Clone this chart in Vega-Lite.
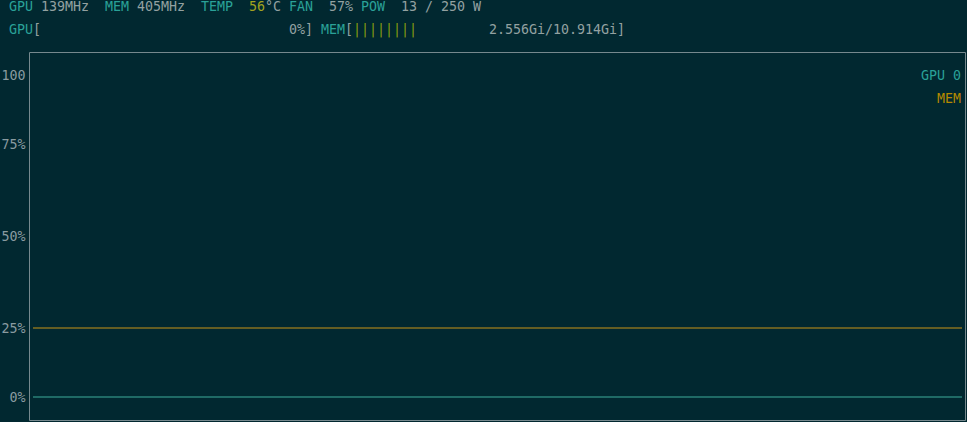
{
  "$schema": "https://vega.github.io/schema/vega-lite/v6.json",
  "width": 936,
  "height": 368,
  "autosize": {"type": "none"},
  "padding": {"left": 29, "top": 52, "right": 2, "bottom": 2},
  "background": "#012830",
  "config": {
    "view": {"stroke": "#76898e", "strokeWidth": 1},
    "font": "DejaVu Sans Mono"
  },
  "layer": [
    {
      "data": {
        "values": [
          {"series": "GPU", "t": 0, "pct": 0},
          {"series": "GPU", "t": 58, "pct": 0},
          {"series": "GPU", "t": 116, "pct": 0},
          {"series": "MEM", "t": 0, "pct": 25},
          {"series": "MEM", "t": 58, "pct": 25},
          {"series": "MEM", "t": 116, "pct": 25}
        ]
      },
      "mark": {"type": "line", "strokeWidth": 1.6},
      "encoding": {
        "x": {"field": "t", "type": "quantitative", "scale": {"domain": [0, 116], "range": [4, 933], "nice": false, "zero": false}, "axis": null},
        "y": {
          "field": "pct",
          "type": "quantitative",
          "scale": {"domain": [0, 25, 50, 75, 100], "range": [345, 276, 184, 92, 23], "nice": false},
          "axis": {
            "values": [0, 25, 50, 75, 100],
            "labelExpr": "datum.value == 100 ? '100' : datum.value + '%'",
            "domain": false,
            "ticks": false,
            "grid": false,
            "title": null,
            "labelPadding": 4,
            "labelFont": "DejaVu Sans Mono",
            "labelFontSize": 13.3,
            "labelColor": "#8a9ba0",
            "labelBaseline": "middle"
          }
        },
        "color": {
          "field": "series",
          "type": "nominal",
          "scale": {"domain": ["GPU", "MEM"], "range": ["#2a8077", "#86701f"]},
          "legend": null
        }
      }
    },
    {
      "data": {
        "values": [
          {"row": 0, "col": 0, "text": "GPU", "kind": "key"},
          {"row": 0, "col": 4, "text": "139MHz", "kind": "val"},
          {"row": 0, "col": 12, "text": "MEM", "kind": "key"},
          {"row": 0, "col": 16, "text": "405MHz", "kind": "val"},
          {"row": 0, "col": 24, "text": "TEMP", "kind": "key"},
          {"row": 0, "col": 30, "text": "56", "kind": "hot"},
          {"row": 0, "col": 32, "text": "°C", "kind": "val"},
          {"row": 0, "col": 35, "text": "FAN", "kind": "key"},
          {"row": 0, "col": 40, "text": "57%", "kind": "val"},
          {"row": 0, "col": 44, "text": "POW", "kind": "key"},
          {"row": 0, "col": 49, "text": "13 / 250 W", "kind": "val"},
          {"row": 1, "col": 0, "text": "GPU", "kind": "key"},
          {"row": 1, "col": 3, "text": "[", "kind": "val"},
          {"row": 1, "col": 35, "text": "0%]", "kind": "val"},
          {"row": 1, "col": 39, "text": "MEM", "kind": "key"},
          {"row": 1, "col": 42, "text": "[", "kind": "val"},
          {"row": 1, "col": 43, "text": "||||||||", "kind": "bar"},
          {"row": 1, "col": 60, "text": "2.556Gi/10.914Gi]", "kind": "val"},
          {"row": 3, "col": 114, "text": "GPU 0", "kind": "key"},
          {"row": 4, "col": 116, "text": "MEM", "kind": "mem"}
        ]
      },
      "mark": {"type": "text", "align": "left", "baseline": "middle", "font": "DejaVu Sans Mono", "fontSize": 13.3},
      "encoding": {
        "x": {"field": "col", "type": "quantitative", "scale": {"domain": [0, 120], "range": [-20, 940], "nice": false, "zero": false}, "axis": null},
        "y": {"field": "row", "type": "quantitative", "scale": {"domain": [0, 18], "range": [-45.5, 368.5], "nice": false, "zero": false}, "axis": null},
        "text": {"field": "text"},
        "color": {
          "field": "kind",
          "type": "nominal",
          "scale": {"domain": ["key", "val", "hot", "bar", "mem"], "range": ["#2aa198", "#93a1a1", "#a3a31f", "#86990f", "#b58900"]},
          "legend": null
        }
      }
    }
  ],
  "resolve": {"scale": {"x": "independent", "y": "independent", "color": "independent"}}
}
